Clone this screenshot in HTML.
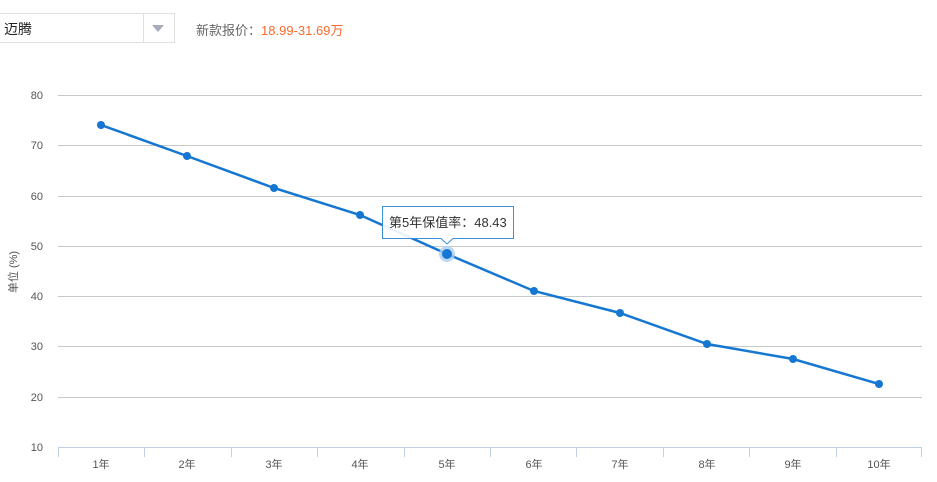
<!DOCTYPE html>
<html><head><meta charset="utf-8"><style>
body{margin:0;width:937px;height:482px;background:#fff;overflow:hidden;font-family:"Liberation Sans","Noto Sans CJK SC",sans-serif;position:relative}
.sel{position:absolute;left:-1px;top:13px;width:176px;height:30px;border:1px solid #e0e0e0;box-sizing:border-box}
.sel .t{position:absolute;left:4px;top:5px;font-size:14px;color:#222}
.sel .d{position:absolute;left:143px;top:0;width:1px;height:28px;background:#e0e0e0}
.sel .a{position:absolute;left:152px;top:11px;border-left:6px solid transparent;border-right:6px solid transparent;border-top:7px solid #a6adb8}
.pr{position:absolute;left:196px;top:20px;font-size:13px;color:#666}
.pr span{color:#f76b2b}
</style></head><body>
<div class="sel"><div class="t">迈腾</div><div class="d"></div><div class="a"></div></div>
<div class="pr">新款报价：<span>18.99-31.69万</span></div>
<svg width="937" height="482" style="position:absolute;left:0;top:0" font-family="Liberation Sans, Noto Sans CJK SC, sans-serif">
<g stroke="#c8c8c8" stroke-width="1">
<line x1="58" x2="922" y1="95.5" y2="95.5"/><line x1="58" x2="922" y1="145.5" y2="145.5"/>
<line x1="58" x2="922" y1="196.5" y2="196.5"/><line x1="58" x2="922" y1="246.5" y2="246.5"/>
<line x1="58" x2="922" y1="296.5" y2="296.5"/><line x1="58" x2="922" y1="346.5" y2="346.5"/>
<line x1="58" x2="922" y1="397.5" y2="397.5"/>
</g>
<line x1="58" x2="922" y1="447.5" y2="447.5" stroke="#c0d0e0"/>
<g stroke="#c0d0e0">
<line x1="58.5" x2="58.5" y1="447" y2="457"/><line x1="144.5" x2="144.5" y1="447" y2="457"/><line x1="231.5" x2="231.5" y1="447" y2="457"/><line x1="317.5" x2="317.5" y1="447" y2="457"/><line x1="404.5" x2="404.5" y1="447" y2="457"/><line x1="490.5" x2="490.5" y1="447" y2="457"/><line x1="576.5" x2="576.5" y1="447" y2="457"/><line x1="663.5" x2="663.5" y1="447" y2="457"/><line x1="749.5" x2="749.5" y1="447" y2="457"/><line x1="836.5" x2="836.5" y1="447" y2="457"/><line x1="921.5" x2="921.5" y1="447" y2="457"/>
</g>
<g font-size="11" fill="#555" text-anchor="end">
<text x="43" y="99">80</text><text x="43" y="149">70</text><text x="43" y="200">60</text><text x="43" y="250">50</text><text x="43" y="300">40</text><text x="43" y="350">30</text><text x="43" y="401">20</text><text x="43" y="451">10</text>
</g>
<g font-size="11" fill="#555" text-anchor="middle">
<text x="101" y="468">1年</text><text x="187" y="468">2年</text><text x="274" y="468">3年</text><text x="360" y="468">4年</text><text x="447" y="468">5年</text><text x="534" y="468">6年</text><text x="620" y="468">7年</text><text x="707" y="468">8年</text><text x="793" y="468">9年</text><text x="879" y="468">10年</text>
</g>
<text x="17" y="272" font-size="11" fill="#555" text-anchor="middle" transform="rotate(-90 17 272)">单位 (%)</text>
<polyline fill="none" stroke="#1577d2" stroke-width="2.5" points="101,125 187,156 274,188 360,215 447,254 534,291 620,313 707,344 793,359 879,384"/>
<g fill="#1577d2">
<circle cx="101" cy="125" r="4"/><circle cx="187" cy="156" r="4"/><circle cx="274" cy="188" r="4"/><circle cx="360" cy="215" r="4"/><circle cx="534" cy="291" r="4"/><circle cx="620" cy="313" r="4"/><circle cx="707" cy="344" r="4"/><circle cx="793" cy="359" r="4"/><circle cx="879" cy="384" r="4"/>
</g>
<circle cx="447" cy="254" r="8" fill="#a9d0f0" opacity="0.8"/>
<circle cx="447" cy="254" r="5" fill="#1577d2"/>
<path d="M382.5,206.5 H513.5 V238.5 H453 L447,244 L441,238.5 H382.5 Z" fill="#fff" fill-opacity="0.9" stroke="#3a8fd9"/>
<text x="389" y="227" font-size="13" fill="#333">第5年保值率：48.43</text>
</svg>
</body></html>
